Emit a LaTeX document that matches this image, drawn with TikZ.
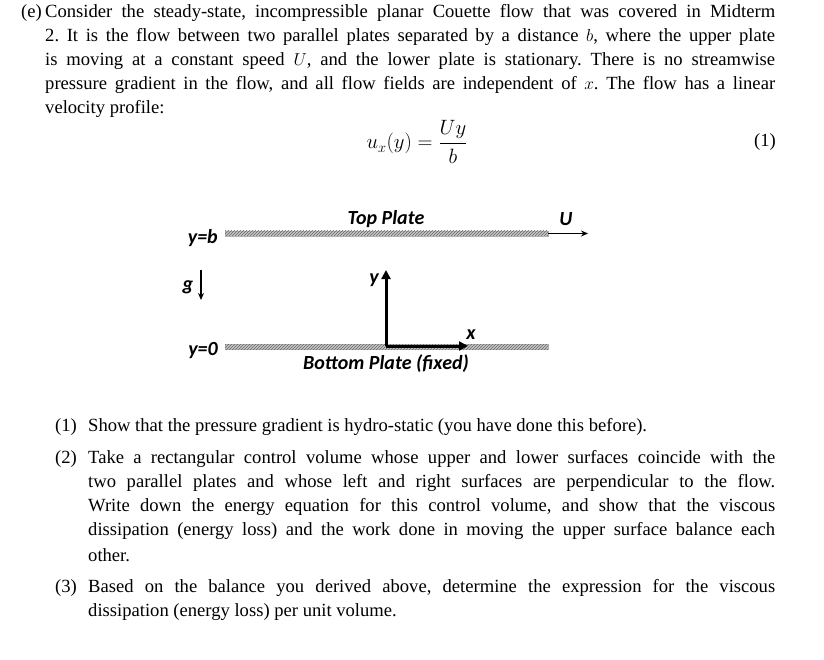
\documentclass[tikz,border=0pt]{standalone}
\usepackage{fontspec}
\usepackage{amsmath}
\setmainfont{Liberation Serif}
\newfontfamily\lblfont{Carlito}
\usetikzlibrary{patterns,arrows.meta}
\frenchspacing
\tikzset{
 txt/.style={anchor=west,inner sep=0pt,font=\fontsize{18.6}{22}\selectfont},
 lbl/.style={inner sep=0pt,font=\lblfont\bfseries\itshape\fontsize{20}{22}\selectfont},
 plate/.style={fill=gray!45,draw=gray!60,line width=0.5pt},
 axis/.style={line width=3pt,-{Triangle[length=9pt,width=9pt]}},
 thin/.style={line width=1.5pt,-{Stealth[length=7pt,width=6pt]}}
}
\newcommand{\jl}[1]{\makebox[730pt][s]{#1}}
\newcommand{\jm}[1]{\makebox[687pt][s]{#1}}
\begin{document}
\begin{tikzpicture}[x=1pt,y=-1pt]
\useasboundingbox (0,0) rectangle (824,660);
\node[txt,anchor=east] (e) at (42,13) {(e)};
\node[txt] (l1) at (45,13) {\jl{Consider the steady-state, incompressible planar Couette flow that was covered in Midterm}};
\node[txt] (l2) at (45,37) {\jl{2. It is the flow between two parallel plates separated by a distance $b$, where the upper plate}};
\node[txt] (l3) at (45,61) {\jl{is moving at a constant speed $U$, and the lower plate is stationary. There is no streamwise}};
\node[txt] (l4) at (45,85) {\jl{pressure gradient in the flow, and all flow fields are independent of $x$. The flow has a linear}};
\node[txt] (l5) at (45,109) {velocity profile:};
\node[inner sep=0pt,font=\fontsize{20}{22}\selectfont] (eq) at (417,142) {$u_x(y)=\dfrac{Uy}{b}$};
\node[txt,anchor=east] (eqn) at (776,142) {(1)};
% diagram
\filldraw[plate] (225,231) rectangle (548,236);
\fill[pattern=north east lines,pattern color=gray!80!black] (225,231) rectangle (548,236);
\filldraw[plate] (225,344) rectangle (548,349);
\fill[pattern=north east lines,pattern color=gray!80!black] (225,344) rectangle (548,349);
\node[lbl] (top) at (386,219) {Top Plate};
\node[lbl] (bot) at (386,364) {Bottom Plate (fixed)};
\node[lbl,anchor=east] (yb) at (218,238) {y=b};
\node[lbl,anchor=east] (y0) at (218,351) {y=0};
\coordinate (ua) at (548,233.5);
\coordinate (ub) at (588,233.5);
\draw[thin] (ua) -- (ub);
\node[lbl] (U) at (566,219) {U};
\coordinate (ga) at (201,270);
\coordinate (gb) at (201,300);
\draw[thin] (ga) -- (gb);
\node[lbl] (g) at (188,287) {g};
\coordinate (o) at (386,346);
\coordinate (yt) at (386,270);
\coordinate (xt) at (468,346);
\draw[axis] (o) -- (yt);
\draw[axis] (o) -- (xt);
\node[lbl] (ylab) at (374,280) {y};
\node[lbl] (xlab) at (471,335) {x};
% list
\node[txt] (i1) at (55,427) {(1)};
\node[txt] (t1) at (88,427) {Show that the pressure gradient is hydro-static (you have done this before).};
\node[txt] (i2) at (55,459) {(2)};
\node[txt] (t2a) at (88,459) {\jm{Take a rectangular control volume whose upper and lower surfaces coincide with the}};
\node[txt] (t2b) at (88,483) {\jm{two parallel plates and whose left and right surfaces are perpendicular to the flow.}};
\node[txt] (t2c) at (88,507) {\jm{Write down the energy equation for this control volume, and show that the viscous}};
\node[txt] (t2d) at (88,531) {\jm{dissipation (energy loss) and the work done in moving the upper surface balance each}};
\node[txt] (t2e) at (88,555) {other.};
\node[txt] (i3) at (55,588) {(3)};
\node[txt] (t3a) at (88,588) {\jm{Based on the balance you derived above, determine the expression for the viscous}};
\node[txt] (t3b) at (88,612) {dissipation (energy loss) per unit volume.};
\end{tikzpicture}
\end{document}
